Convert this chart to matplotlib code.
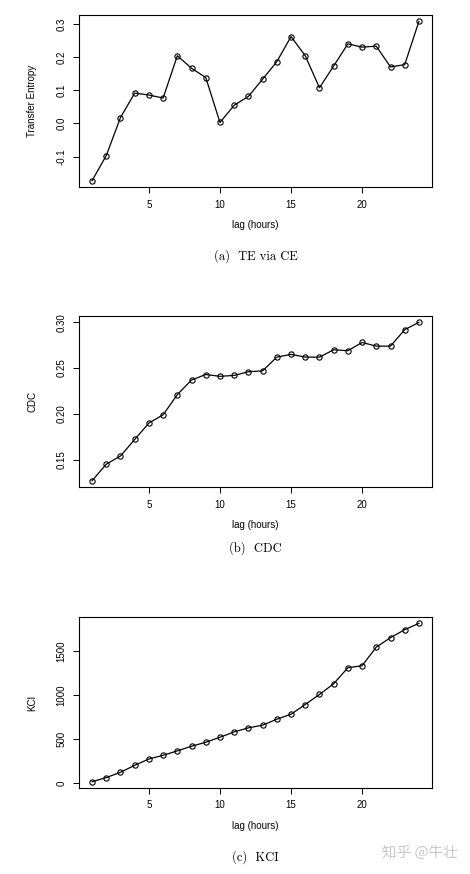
import numpy as np
import matplotlib
matplotlib.use("Agg")
import matplotlib.pyplot as plt
from matplotlib.ticker import FixedLocator, FormatStrFormatter

plt.rcParams["font.family"] = ["Liberation Sans", "DejaVu Sans"]
plt.rcParams["axes.unicode_minus"] = False

lags = np.arange(1, 25)

te_vals = [-0.173, -0.097, 0.018, 0.092, 0.086, 0.077, 0.205, 0.167, 0.139, 0.003,
           0.055, 0.082, 0.134, 0.187, 0.263, 0.205, 0.108, 0.174, 0.241, 0.231,
           0.234, 0.171, 0.178, 0.309]
cdc_vals = [0.127, 0.145, 0.154, 0.172, 0.190, 0.199, 0.221, 0.237, 0.243, 0.241,
            0.242, 0.246, 0.247, 0.262, 0.265, 0.262, 0.262, 0.270, 0.269, 0.278,
            0.274, 0.274, 0.292, 0.300]
kci_vals = [15, 61, 122, 201, 273, 315, 365, 418, 463, 520,
            581, 627, 657, 725, 782, 892, 1006, 1128, 1310, 1333,
            1545, 1652, 1743, 1815]

panels = [
    (te_vals, "Transfer Entropy", [-0.1, 0.0, 0.1, 0.2, 0.3], "%.1f", "(a)  TE via CE"),
    (cdc_vals, "CDC", [0.15, 0.20, 0.25, 0.30], "%.2f", "(b)  CDC"),
    (kci_vals, "KCI", [0, 500, 1000, 1500], "%d", "(c)  KCI"),
]
x_ticks = [5, 10, 15, 20]

W, H = 470, 874
fig = plt.figure(figsize=(W / 100, H / 100), dpi=100)

# pixel boxes (top, bottom) of each plot region
boxes = [(15, 187), (316, 487), (617, 788)]
captions_y = [256, 548, 857]
left_px, right_px = 79, 432

for (vals, ylab, yt, fmt, cap), (top, bot), cy in zip(panels, boxes, captions_y):
    ax = fig.add_axes([left_px / W, 1 - bot / H, (right_px - left_px) / W, (bot - top) / H])
    ax.plot(lags, vals, color="black", lw=0.9, marker="o", ms=3.8,
            mfc="none", mec="black", mew=0.8)
    # R style 4% padding
    ax.set_xlim(1 - 0.04 * 23, 24 + 0.04 * 23)
    lo, hi = min(vals), max(vals)
    pad = 0.04 * (hi - lo)
    ax.set_ylim(lo - pad, hi + pad)
    ax.xaxis.set_major_locator(FixedLocator(x_ticks))
    ax.yaxis.set_major_locator(FixedLocator(yt))
    ax.yaxis.set_major_formatter(FormatStrFormatter(fmt))
    ax.tick_params(axis="both", direction="out", length=4, width=0.7,
                   labelsize=7, pad=5, colors="black")
    for lbl in ax.get_yticklabels():
        lbl.set_rotation(90)
        lbl.set_va("center")
    for sp in ax.spines.values():
        sp.set_linewidth(0.8)
    ax.set_xlabel("lag (hours)", fontsize=7)
    ax.set_ylabel(ylab, fontsize=7)
    ax.xaxis.set_label_coords(0.5, -33 / (bot - top))
    ax.yaxis.set_label_coords(-(left_px - 37) / (right_px - left_px), 0.5)
    fig.text(0.5 * (left_px + right_px) / W, 1 - cy / H, cap,
             fontsize=9, family="cmr10", ha="center", va="center")

fig.text(420 / W, 1 - 853 / H, "知乎 @牛壮", fontsize=10.5, color="#c8c8c8",
         family=["Noto Sans CJK SC", "DejaVu Sans"], ha="center", va="center")

fig.savefig("out.png", dpi=100)
